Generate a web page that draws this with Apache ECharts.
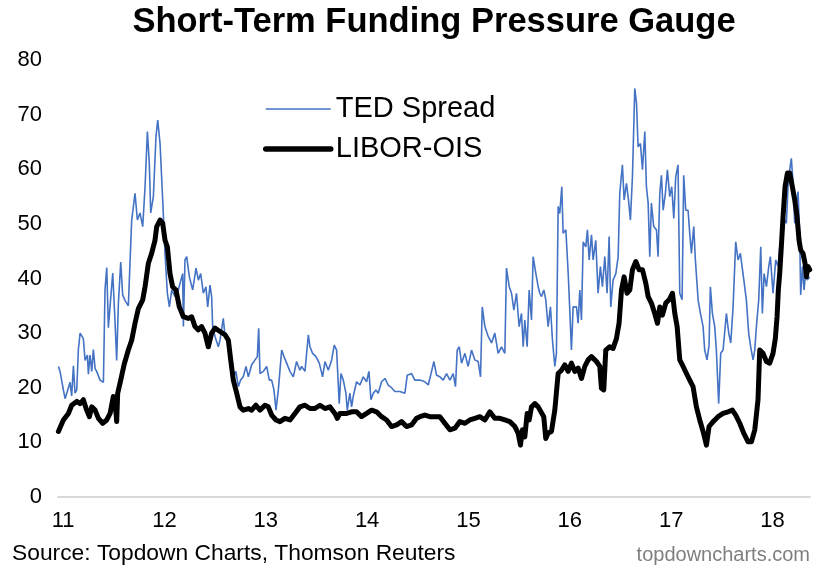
<!DOCTYPE html>
<html>
<head>
<meta charset="utf-8">
<script src="https://cdn.jsdelivr.net/npm/echarts@6/dist/echarts.min.js"></script>
<style>
html,body{margin:0;padding:0;background:#fff;}
#chart{width:826px;height:576px;}
</style>
</head>
<body>
<div id="chart"></div>
<script>
// ---- Data (years as 2-digit decimal, e.g. 11.5 = mid 2011) ----
const xTickLabels = [11, 12, 13, 14, 15, 16, 17, 18];
const yTicks = [0, 10, 20, 30, 40, 50, 60, 70, 80];

const tedDates = [10.954,10.970,11.003,11.020,11.036,11.053,11.069,11.085,11.102,11.118,11.135,11.151,11.168,11.200,11.217,11.240,11.250,11.266,11.283,11.299,11.316,11.332,11.365,11.398,11.414,11.431,11.447,11.464,11.490,11.513,11.529,11.546,11.569,11.588,11.611,11.644,11.677,11.710,11.733,11.759,11.786,11.809,11.832,11.851,11.865,11.891,11.917,11.934,11.957,11.983,12.006,12.029,12.049,12.072,12.105,12.137,12.154,12.180,12.187,12.203,12.220,12.246,12.279,12.312,12.335,12.358,12.384,12.410,12.427,12.450,12.466,12.476,12.499,12.532,12.548,12.581,12.598,12.631,12.663,12.686,12.706,12.729,12.752,12.778,12.805,12.828,12.861,12.894,12.917,12.930,12.943,12.976,13.009,13.035,13.058,13.081,13.101,13.124,13.157,13.180,13.206,13.239,13.272,13.304,13.337,13.354,13.387,13.420,13.436,13.462,13.495,13.528,13.561,13.584,13.617,13.650,13.676,13.699,13.725,13.742,13.765,13.791,13.804,13.830,13.847,13.863,13.896,13.929,13.962,13.995,14.018,14.038,14.061,14.087,14.110,14.143,14.176,14.208,14.241,14.274,14.324,14.373,14.396,14.439,14.471,14.521,14.570,14.603,14.636,14.659,14.685,14.718,14.751,14.784,14.817,14.849,14.872,14.889,14.909,14.932,14.965,14.997,15.030,15.063,15.096,15.119,15.136,15.162,15.195,15.228,15.260,15.293,15.326,15.359,15.375,15.402,15.425,15.448,15.474,15.500,15.523,15.540,15.556,15.579,15.599,15.622,15.638,15.665,15.688,15.704,15.720,15.744,15.763,15.786,15.809,15.829,15.852,15.868,15.885,15.901,15.921,15.934,15.961,15.984,16.000,16.016,16.033,16.066,16.082,16.099,16.115,16.132,16.158,16.174,16.191,16.214,16.230,16.256,16.279,16.302,16.322,16.345,16.368,16.388,16.404,16.427,16.454,16.477,16.493,16.519,16.536,16.559,16.579,16.598,16.618,16.641,16.658,16.674,16.697,16.717,16.740,16.756,16.773,16.789,16.805,16.828,16.855,16.871,16.888,16.904,16.921,16.943,16.963,16.986,17.006,17.026,17.045,17.068,17.085,17.108,17.124,17.144,17.167,17.183,17.200,17.223,17.239,17.266,17.289,17.315,17.331,17.354,17.374,17.387,17.407,17.430,17.446,17.469,17.489,17.512,17.545,17.568,17.588,17.611,17.637,17.660,17.683,17.709,17.742,17.765,17.785,17.808,17.825,17.841,17.864,17.884,17.900,17.917,17.940,17.963,17.979,18.005,18.032,18.055,18.071,18.087,18.104,18.120,18.137,18.153,18.170,18.186,18.203,18.219,18.235,18.252,18.268,18.278,18.295,18.311,18.327,18.344,18.367];
const tedSpread = [23.9,23,19.6,18,18,20,21,18.5,24,19,19.6,27,30,29,25,26,22.5,26,23,27,23.5,23,21.4,21,38,42,31,35,41,32,25,35.5,43,37,36,35,50.7,55.6,50.7,52,49.5,56.8,66.9,61,52,55,66,69,64.7,54.4,44.6,37.3,34.8,37.9,36.7,37.9,39.1,40.9,31.2,43.4,44,40.3,37.9,41.9,39.7,40.9,37.3,38.5,34.8,38.8,36.7,31.2,29.4,27.5,28.7,32.7,29.4,28.7,25.1,22,23,20.2,21.4,22,23.9,22,24.2,25.1,25.7,30.9,22.6,23,23.9,21.4,21.4,19.6,15.9,19.6,26.9,25.7,24.5,23,22,24.8,23.2,23.9,23,29.7,27.5,26.3,25.7,24.5,22,24.8,23.2,25.1,27.8,26.9,17.1,22.6,21.4,19,15.9,19,16.5,18.4,21.1,20.5,22,21.1,23,17.8,19,19.6,19,21.1,21.7,20.5,20,19.3,19.3,19,22.3,22.6,21.4,21.4,21.1,20.5,23,24.8,22.3,22,21.4,22.6,21.4,22.6,20.2,26.9,27.5,24.5,26.3,23.9,26.9,25.1,24.8,22,34.8,31.2,29.4,28.2,30,26.3,27.5,26.3,41.9,38.5,37.3,34.2,37.3,31.2,33.6,27.5,32.4,27.5,37.9,32.4,44,40.9,38.5,37.3,36.7,37.9,36.1,31.2,34.8,28.7,23.9,26.3,53.2,51.9,56.8,48.3,48.9,41,34.2,26.9,34.8,34.8,31.8,37.9,32.4,46.7,45.8,48.9,43.4,48,43.4,47,37.3,42.2,38.5,44,37.3,47.7,34.8,39.7,40.9,44,55.6,60.8,54.4,57.4,54.4,50.7,58.6,74.8,72.1,64.1,64.7,59.9,66.9,56.8,53.8,44,53.8,49.5,48.9,44,55.6,58.9,52.5,55.6,59.9,55,56.8,51,58.6,60.8,37.3,36.1,58.9,52.5,52.5,48.3,44.6,49.5,43.4,36.1,33.6,31.2,26.9,25.1,27.8,38.5,33.6,31.2,26.9,17.1,26.3,26.9,33.6,30,28.2,34.8,46.7,43.4,44.6,40.9,36.1,30,27.5,25.1,26.9,31.2,36.1,45.8,33.6,40.9,38.5,42.2,44,37.3,43.4,42.2,45.8,43.4,48.3,50.7,50.1,56.8,59.9,62,57.4,50.1,53.8,55.9,48.3,37,42.2,37.9,40.9,39.7,40.3];

const liborDates = [10.954,11.003,11.053,11.085,11.135,11.168,11.200,11.233,11.260,11.283,11.316,11.349,11.391,11.431,11.464,11.496,11.523,11.529,11.539,11.569,11.602,11.644,11.677,11.710,11.743,11.786,11.809,11.842,11.874,11.907,11.924,11.957,11.983,12.006,12.029,12.055,12.081,12.114,12.147,12.187,12.236,12.269,12.302,12.335,12.367,12.400,12.433,12.466,12.499,12.548,12.598,12.631,12.654,12.680,12.713,12.746,12.778,12.828,12.861,12.903,12.943,12.992,13.025,13.058,13.101,13.140,13.189,13.239,13.288,13.337,13.387,13.436,13.485,13.535,13.584,13.633,13.682,13.706,13.732,13.798,13.847,13.896,13.945,13.995,14.044,14.093,14.143,14.192,14.241,14.291,14.340,14.389,14.439,14.488,14.521,14.570,14.619,14.669,14.718,14.767,14.817,14.866,14.915,14.965,15.014,15.063,15.112,15.162,15.211,15.260,15.310,15.359,15.408,15.458,15.490,15.513,15.533,15.556,15.579,15.599,15.622,15.655,15.688,15.704,15.743,15.763,15.786,15.819,15.852,15.885,15.918,15.951,15.984,16.016,16.049,16.082,16.115,16.148,16.181,16.214,16.263,16.296,16.312,16.335,16.355,16.394,16.427,16.460,16.486,16.510,16.536,16.565,16.592,16.618,16.651,16.684,16.717,16.750,16.773,16.805,16.838,16.865,16.888,16.914,16.947,16.980,17.013,17.036,17.059,17.085,17.118,17.151,17.183,17.216,17.249,17.282,17.315,17.348,17.374,17.414,17.463,17.512,17.562,17.604,17.637,17.677,17.716,17.759,17.792,17.825,17.841,17.857,17.874,17.907,17.940,17.972,18.005,18.028,18.045,18.058,18.071,18.087,18.104,18.124,18.147,18.170,18.196,18.219,18.242,18.262,18.278,18.301,18.321,18.334,18.350,18.367];
const liborOis = [12,14.1,15.3,16.8,17.5,17.1,17.8,15.9,14.7,16.5,15.9,14.4,13.5,14.1,15.3,18.4,15.3,13.8,19,21.4,24.2,26.9,28.7,31.8,34.5,36.1,38.5,42.8,44.6,47,49.5,50.7,50.1,47,45.8,40.9,38.5,37.9,34.8,33,32.7,33,31.2,30.6,31.2,30,27.5,30,30.9,30.3,29.7,28.7,25.1,21.4,19,16.5,15.9,16.2,15.9,16.8,15.9,16.8,16.5,15,14.1,13.8,14.4,14.1,15.3,16.5,16.8,16.2,16.2,16.8,16.2,16.5,15.3,14.4,15.3,15.3,15.6,15.6,14.7,15.3,15.9,15.6,14.7,14.1,12.9,13.2,13.8,12.9,13.2,14.4,14.7,15,14.7,14.7,14.7,13.5,12.3,12.6,13.8,13.5,14.1,14.4,14.7,14.1,15.6,14.4,14.4,14.1,13.8,12.9,11.7,9.5,12.3,11,15.3,14.1,16.5,17.1,16.5,16.5,14.7,10.7,11.7,12,15.9,22.6,23.2,24.2,23,24.5,23,23.6,21.7,23.9,25.1,25.7,24.8,23.9,19.9,19.6,26.9,27.5,27.2,29,31.8,37.9,40.3,37.3,37.9,41.6,43.1,41.6,41.6,39.1,36.7,35.5,33.6,31.8,34.8,33.3,35.5,36.1,37.3,33.6,31.2,25.1,23.9,22.6,21.4,20.2,16.5,14.1,12,9.5,12.9,13.8,14.7,15.3,15.6,15.9,15,13.5,11.7,10.1,10.1,12.3,15,17.8,26.9,26.3,24.8,24.5,26.3,29,33,38,40.9,45.8,51.3,56.8,59.3,59.3,56.8,54.4,51.3,47,45.2,44.6,42.8,40.3,42.2,41.6];

const seriesNames = ['TED Spread', 'LIBOR-OIS'];
const titleText = 'Short-Term Funding Pressure Gauge';
const sourceText = 'Source: Topdown Charts, Thomson Reuters';
const siteText = 'topdowncharts.com';

// ---- Build ----
const FONT = '"Liberation Sans", Arial, Helvetica, sans-serif';
const tedData = tedDates.map((d, i) => [d, tedSpread[i]]);
const liborData = liborDates.map((d, i) => [d, liborOis[i]]);

const chart = echarts.init(document.getElementById('chart'), null, {renderer: 'canvas'});
chart.setOption({
  animation: false,
  backgroundColor: '#ffffff',
  textStyle: {fontFamily: FONT},
  grid: {left: 58, right: 16, top: 60, bottom: 79, containLabel: false},
  xAxis: {
    type: 'value',
    min: 10.95,
    max: 18.37,
    axisLine: {show: true, lineStyle: {color: '#d9d9d9', width: 2}},
    axisTick: {show: false},
    splitLine: {show: false},
    axisLabel: {
      customValues: xTickLabels,
      formatter: v => String(Math.round(v)),
      fontSize: 22,
      color: '#000',
      fontFamily: FONT,
      margin: 13,
      showMinLabel: true,
      showMaxLabel: true
    }
  },
  yAxis: {
    type: 'value',
    min: 0,
    max: 80,
    interval: 10,
    axisLine: {show: false},
    axisTick: {show: false},
    splitLine: {show: false},
    axisLabel: {fontSize: 22, color: '#000', fontFamily: FONT, margin: 16}
  },
  legend: {
    data: [
      {name: seriesNames[0], lineStyle: {color: '#4472C4', width: 1.6}},
      {name: seriesNames[1], lineStyle: {color: '#000000', width: 5.5}}
    ],
    orient: 'vertical',
    left: 258,
    top: 89,
    itemWidth: 65,
    itemHeight: 14,
    itemGap: 10,
    itemStyle: {color: 'transparent', borderColor: 'transparent', borderWidth: 0, opacity: 0},
    textStyle: {fontSize: 29, color: '#000', fontFamily: FONT, lineHeight: 30}
  },
  series: [
    {
      name: seriesNames[0],
      type: 'line',
      data: tedData,
      symbol: 'none',
      showSymbol: false,
      lineStyle: {color: '#4472C4', width: 1.6},
      itemStyle: {color: '#4472C4'},
      z: 2
    },
    {
      name: seriesNames[1],
      type: 'line',
      data: liborData,
      symbol: 'none',
      showSymbol: false,
      lineStyle: {color: '#000000', width: 5, join: 'round', cap: 'round'},
      itemStyle: {color: '#000000'},
      z: 3
    }
  ],
  graphic: [
    {type: 'text', x: 434, y: 22, style: {text: titleText, font: 'bold 34.5px ' + FONT, fill: '#000', textAlign: 'center', textVerticalAlign: 'middle'}},
    {type: 'text', x: 12, y: 554, style: {text: sourceText, font: '22.8px ' + FONT, fill: '#000', textAlign: 'left', textVerticalAlign: 'middle'}},
    {type: 'text', x: 810, y: 555, style: {text: siteText, font: '20px ' + FONT, fill: '#7f7f7f', textAlign: 'right', textVerticalAlign: 'middle'}}
  ]
});
</script>
</body>
</html>
